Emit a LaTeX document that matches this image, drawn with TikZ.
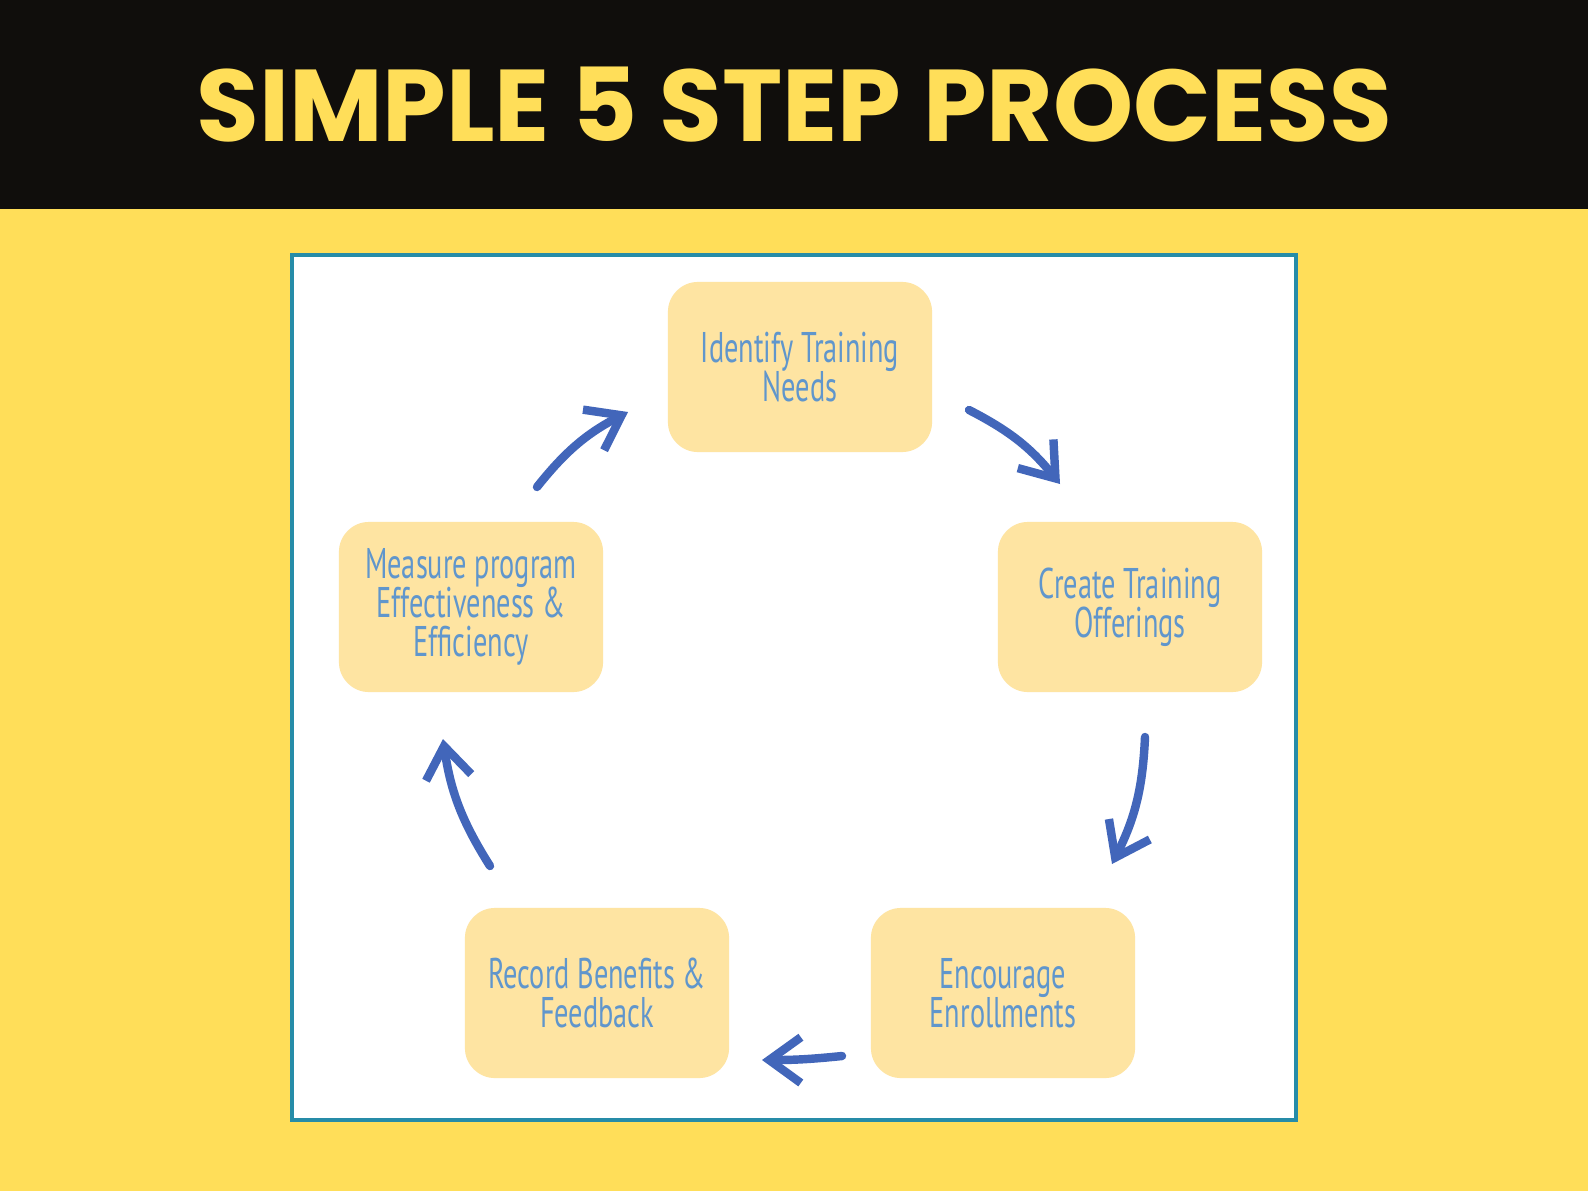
\documentclass[tikz,border=0pt]{standalone}
\usepackage{fontspec}
\usetikzlibrary{arrows.meta}
\newfontfamily\titlefont{Poppins}
\newfontfamily\boxfont[FakeStretch=0.66]{PT Sans}
\newcommand\tightlines{\lineskiplimit=-8pt\relax}
\definecolor{bgyellow}{RGB}{255,222,89}
\definecolor{bannerblack}{RGB}{16,14,12}
\definecolor{panelline}{RGB}{38,140,168}
\definecolor{boxfill}{RGB}{254,228,162}
\definecolor{boxtext}{RGB}{96,150,204}
\definecolor{arrowblue}{RGB}{66,102,186}
\tikzset{
  stepbox/.style={rectangle, rounded corners=0.3cm, fill=boxfill,
    minimum width=2.64cm, minimum height=1.7cm, align=center,
    text=boxtext, font=\boxfont\fontsize{12.2}{11}\selectfont\tightlines},
  flow/.style={draw=arrowblue, line width=2.4pt, line cap=round,
    -{Straight Barb[length=9pt,width=13pt,line width=2.4pt]}}
}
\begin{document}
\begin{tikzpicture}[x=0.01cm, y=-0.01cm]
  \useasboundingbox (0,0) rectangle (1588,1191);
  \fill[bgyellow] (0,0) rectangle (1588,1191);
  \fill[bannerblack] (0,0) rectangle (1588,209);
  \node (title) at (794,105) {\titlefont\bfseries\fontsize{29}{32}\selectfont\color{bgyellow}SIMPLE 5 STEP PROCESS};
  \draw[panelline, fill=white, line width=1.2pt] (292,255) rectangle (1296,1120);
  \draw
    (800,367) node[stepbox] (0){Identify Training\\Needs}
    (1130,607) node[stepbox] (1){Create Training\\Offerings}
    (1003,993) node[stepbox] (2){Encourage\\Enrollments}
    (597,993) node[stepbox] (3){Record Benefits \&\\Feedback}
    (471,607) node[stepbox] (4){Measure program\\Effectiveness \&\\Efficiency};
  \coordinate (a0) at (969,410);  \coordinate (b0) at (1060,484);
  \coordinate (a1) at (1145,737); \coordinate (b1) at (1112,864);
  \coordinate (a2) at (842,1056); \coordinate (b2) at (762,1060);
  \coordinate (a3) at (490,866);  \coordinate (b3) at (443,739);
  \coordinate (a4) at (537,487);  \coordinate (b4) at (628,412);
  \begin{scope}[flow]
    \draw (a0) to[bend left=12] (b0);
    \draw (a1) to[bend left=12] (b1);
    \draw (a2) to[bend left=3] (b2);
    \draw (a3) to[bend left=12] (b3);
    \draw (a4) to[bend left=12] (b4);
  \end{scope}
\end{tikzpicture}
\end{document}
